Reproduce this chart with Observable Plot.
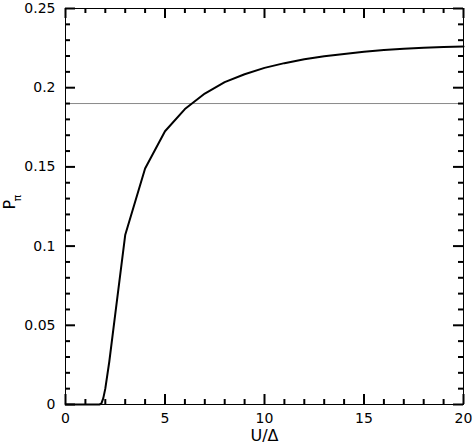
<!DOCTYPE html>
<html>
<head>
<meta charset="utf-8">
<script src="https://cdn.jsdelivr.net/npm/d3@7"></script>
<script src="https://cdn.jsdelivr.net/npm/@observablehq/plot@0.6"></script>
<style>
  html, body { margin: 0; padding: 0; background: #fff; }
</style>
</head>
<body>
<div id="chart"></div>
<script>
// Data
const U = [0, 1.0, 1.7, 1.8, 1.9, 2.0, 2.2, 2.5, 3.0, 4.0, 5.0, 6.0, 7.0, 8.0, 9.0, 10, 11, 12, 13, 14, 15, 16, 17, 18, 19, 20];
const P = [0, 0, 0, 0.0006, 0.004, 0.010, 0.027, 0.057, 0.107, 0.149, 0.1725, 0.1865, 0.1963, 0.2035, 0.2085, 0.2125, 0.2155, 0.2180, 0.2198, 0.2213, 0.2227, 0.2238, 0.2246, 0.2252, 0.2257, 0.2260];
const refLevel = [0.19];

const xMajorTicks = [0, 5, 10, 15, 20];
const xMinorTicks = [1, 2, 3, 4, 6, 7, 8, 9, 11, 12, 13, 14, 16, 17, 18, 19];
const yMajorTicks = [0, 0.05, 0.1, 0.15, 0.2, 0.25];
const yMinorTicks = [0.01, 0.02, 0.03, 0.04, 0.06, 0.07, 0.08, 0.09, 0.11, 0.12, 0.13, 0.14, 0.16, 0.17, 0.18, 0.19, 0.21, 0.22, 0.23, 0.24];

const xLabel = ["U/Δ"];
const yLabelMain = ["P"];
const yLabelSub = ["π"];

const W = 474, H = 448;
const mL = 65, mR = 11, mT = 8, mB = 44;
const fw = W - mL - mR, fh = H - mT - mB;
const major = 10, minor = 5;
const tickStyle = {stroke: "black", strokeWidth: 2};

const data = U.map((u, i) => ({u, p: P[i]}));

const chart = Plot.plot({
  width: W,
  height: H,
  marginLeft: mL,
  marginRight: mR,
  marginTop: mT,
  marginBottom: mB,
  style: {fontFamily: "DejaVu Sans", fontSize: "14px", color: "black", background: "white"},
  x: {domain: [0, 20]},
  y: {domain: [0, 0.25]},
  marks: [
    Plot.ruleY(refLevel, {stroke: "#8a8a8a", strokeWidth: 1}),
    Plot.line(data, {x: "u", y: "p", stroke: "black", strokeWidth: 2}),
    Plot.frame({stroke: "black", strokeWidth: 1}),
    // inward ticks on bottom and top
    Plot.tickX(xMajorTicks, {x: d => d, insetTop: fh - major, ...tickStyle}),
    Plot.tickX(xMajorTicks, {x: d => d, insetBottom: fh - major, ...tickStyle}),
    Plot.tickX(xMinorTicks, {x: d => d, insetTop: fh - minor, ...tickStyle}),
    Plot.tickX(xMinorTicks, {x: d => d, insetBottom: fh - minor, ...tickStyle}),
    // inward ticks on left and right
    Plot.tickY(yMajorTicks, {y: d => d, insetRight: fw - major, ...tickStyle}),
    Plot.tickY(yMajorTicks, {y: d => d, insetLeft: fw - major, ...tickStyle}),
    Plot.tickY(yMinorTicks, {y: d => d, insetRight: fw - minor, ...tickStyle}),
    Plot.tickY(yMinorTicks, {y: d => d, insetLeft: fw - minor, ...tickStyle}),
    // tick labels
    Plot.axisX({ticks: xMajorTicks, tickSize: 0, tickPadding: 9, tickFormat: d => String(d), label: null}),
    Plot.axisY({ticks: yMajorTicks, tickSize: 0, tickPadding: 10, tickFormat: d => String(d), label: null}),
    // axis titles
    Plot.text(xLabel, {frameAnchor: "bottom", dy: 36, fontSize: 16, fill: "black"}),
    Plot.text(yLabelMain, {frameAnchor: "left", dx: -56, dy: 3, rotate: -90, fontSize: 16, fill: "black"}),
    Plot.text(yLabelSub, {frameAnchor: "left", dx: -48, dy: -5, rotate: -90, fontSize: 11, fill: "black"})
  ]
});

document.getElementById("chart").appendChild(chart);
</script>
</body>
</html>
